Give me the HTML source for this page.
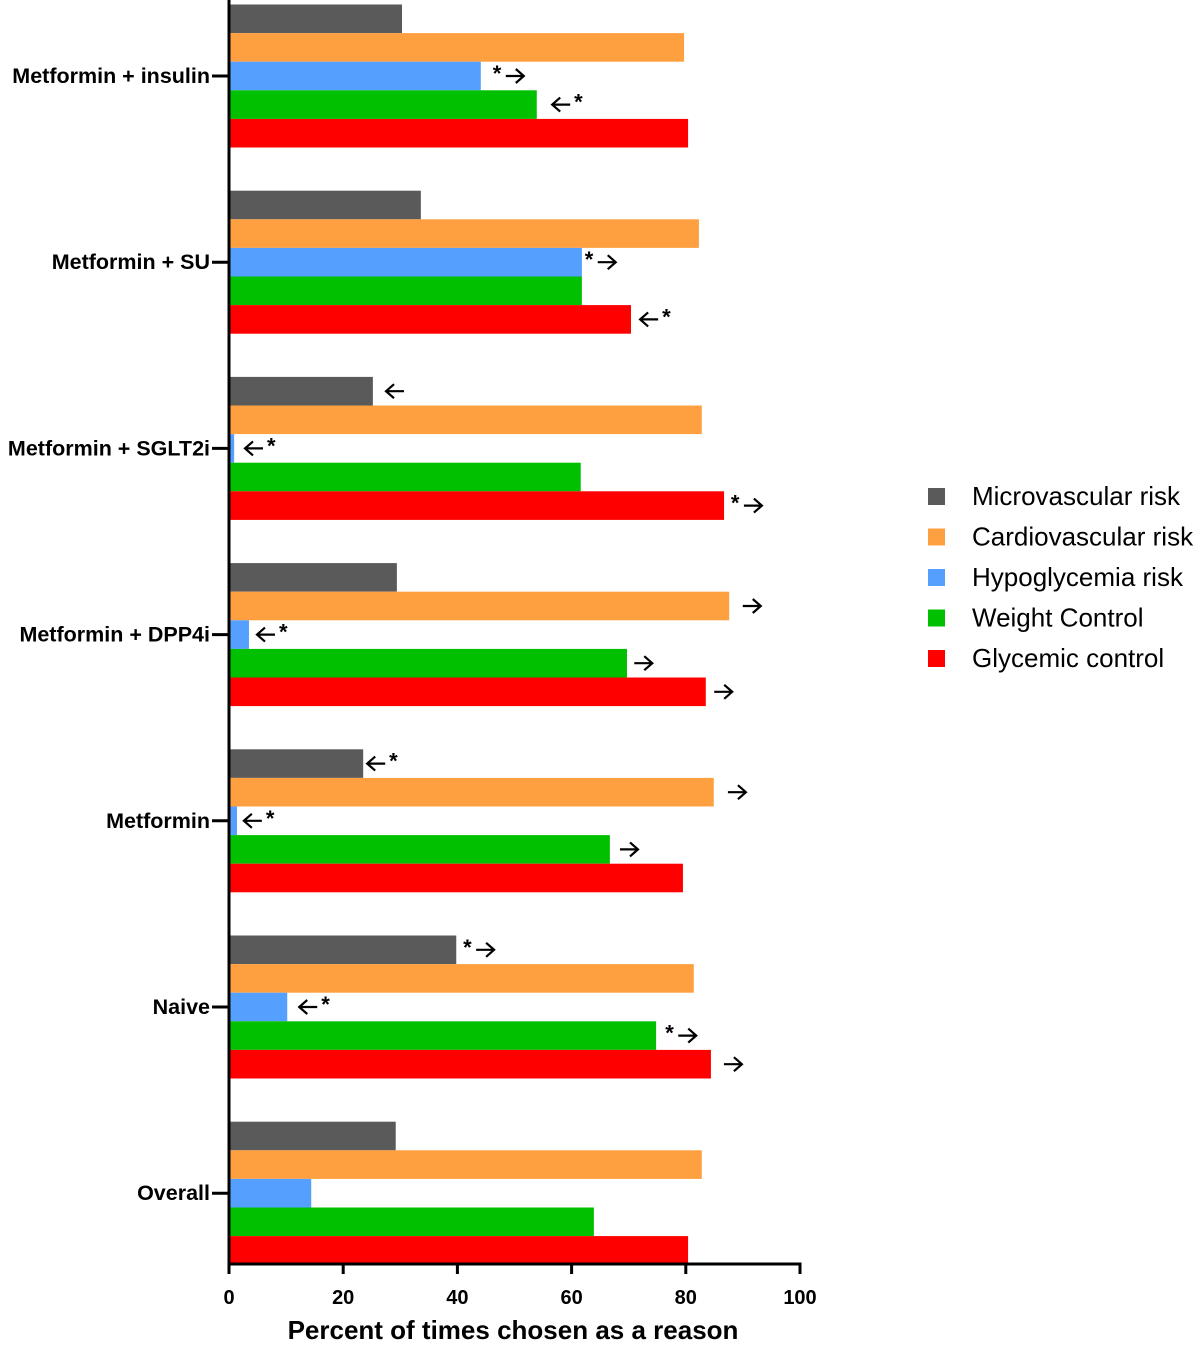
<!DOCTYPE html>
<html><head><meta charset="utf-8"><style>
body{margin:0;background:#fff;}
svg text{font-family:"Liberation Sans","DejaVu Sans",sans-serif;}
</style></head><body>
<svg id="chart" width="1200" height="1343" viewBox="0 0 1200 1343" xmlns="http://www.w3.org/2000/svg">
<g id="bars"></g>
<g id="axes"></g>
<g id="legend"></g>
</svg>
<script>
const categories = ["Metformin + insulin","Metformin + SU","Metformin + SGLT2i","Metformin + DPP4i","Metformin","Naive","Overall"];
const seriesNames = ["Microvascular risk","Cardiovascular risk","Hypoglycemia risk","Weight Control","Glycemic control"];
const seriesColors = ["#5a5a5a","#ffa040","#55a0ff","#00c000","#ff0000"];
const microvascular = [30.3,33.6,25.2,29.4,23.5,39.8,29.2];
const cardiovascular = [79.7,82.3,82.8,87.6,84.9,81.4,82.8];
const hypoglycemia = [44.1,61.8,0.9,3.5,1.4,10.2,14.4];
const weight = [53.9,61.8,61.6,69.7,66.7,74.8,63.9];
const glycemic = [80.4,70.4,86.7,83.5,79.5,84.4,80.4];
const ticks = [0,20,40,60,80,100];
// [group, series, text, x value]
const annotations = [
 [0,2,"*→",46.2],[0,3,"←*",56.6],
 [1,2,"*→",62.3],[1,4,"←*",72],
 [2,0,"←",27.5],[2,2,"←*",2.8],[2,4,"*→",87.9],
 [3,1,"→",89.8],[3,2,"←*",4.9],[3,3,"→",70.8],[3,4,"→",84.8],
 [4,0,"←*",24.2],[4,1,"→",87.2],[4,2,"←*",2.6],[4,3,"→",68.3],
 [5,0,"*→",41],[5,2,"←*",12.3],[5,3,"*→",76.4],[5,4,"→",86.5]
];
const series=[microvascular,cardiovascular,hypoglycemia,weight,glycemic];
const NS="http://www.w3.org/2000/svg";
const x0=229,x1=800,yTop=0,yBot=1264;
const xs=v=>x0+(v/100)*(x1-x0);
const groupCenter=g=>76+g*186.2;
const barH=28.6;
const barY=(g,s)=>groupCenter(g)-2.5*barH+s*barH;
function mk(tag,attrs,parent){const e=document.createElementNS(NS,tag);for(const k in attrs)e.setAttribute(k,attrs[k]);parent.appendChild(e);return e;}
const bars=document.getElementById('bars'),axes=document.getElementById('axes'),legend=document.getElementById('legend');
categories.forEach((c,g)=>{series.forEach((arr,s)=>{
 const r=mk('rect',{x:x0,y:barY(g,s),width:xs(arr[g])-x0,height:barH,fill:seriesColors[s]},bars);
 
 
});});
annotations.forEach(a=>{
 let x=xs(a[3]);const cy=barY(a[0],a[1])+barH/2;
 const g=mk('g',{},bars);
 
 
 for(const ch of a[2]){
  if(ch==='*'){
   const t=mk('text',{x:x,y:cy+5,'font-size':22,'font-weight':'bold',fill:'#000'},g);
   t.textContent='*';x+=12;
  } else {
   const w=19;
   const d = ch==='→' ? `M${x+1},${cy} H${x+w} M${x+w-8},${cy-7} L${x+w},${cy} L${x+w-8},${cy+7}`
                      : `M${x+w-1},${cy} H${x} M${x+8},${cy-7} L${x},${cy} L${x+8},${cy+7}`;
   mk('path',{d:d,stroke:'#000','stroke-width':2.2,fill:'none'},g);
   x+=w+3;
  }
 }
});
let l=mk('line',{x1:x0,y1:yTop,x2:x0,y2:yBot+1.5,stroke:'#000','stroke-width':3},axes);


l=mk('line',{x1:x0-1.5,y1:yBot,x2:x1+1.5,y2:yBot,stroke:'#000','stroke-width':3},axes);


ticks.forEach(v=>{
 mk('line',{x1:xs(v),y1:yBot,x2:xs(v),y2:yBot+10,stroke:'#000','stroke-width':3},axes);
 const t=mk('text',{x:xs(v),y:1304,'font-size':20,'font-weight':'bold','text-anchor':'middle'},axes);
 t.textContent=v;
 
 
});
categories.forEach((c,g)=>{
 mk('line',{x1:212,y1:groupCenter(g),x2:x0,y2:groupCenter(g),stroke:'#000','stroke-width':3},axes);
 const t=mk('text',{x:210,y:groupCenter(g)+7,'font-size':21.5,'font-weight':'bold','text-anchor':'end'},axes);
 t.textContent=c;
 
 
});
const tt=mk('text',{x:513,y:1339,'font-size':26,'font-weight':'bold','text-anchor':'middle'},axes);
tt.textContent="Percent of times chosen as a reason";


seriesNames.forEach((n,i)=>{
 const y=496+i*40.5;
 const r=mk('rect',{x:928,y:y-8,width:17,height:17,fill:seriesColors[i]},legend);
 
 
 const t=mk('text',{x:972,y:y+9,'font-size':26,fill:'#000'},legend);
 t.textContent=n;
 
 
});
</script>
</body></html>
